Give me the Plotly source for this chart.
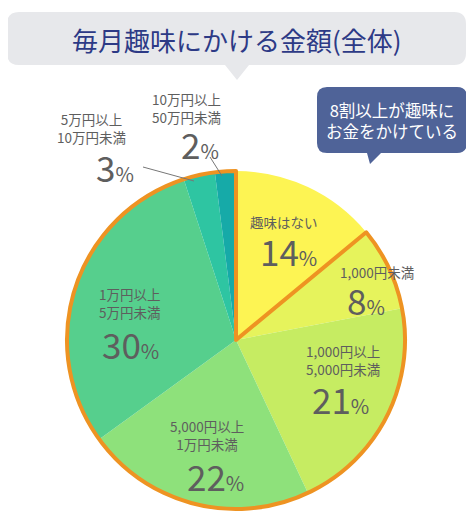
import plotly.graph_objects as go

# the page body keeps an 8px margin, so the figure is laid out in page pixels shifted by it
OFF = 8
W, H = 474 - OFF, 520 - OFF

# data
categories = ['趣味はない', '1,000円未満', '1,000円以上<br>5,000円未満', '5,000円以上<br>1万円未満',
              '1万円以上<br>5万円未満', '5万円以上<br>10万円未満', '10万円以上<br>50万円未満']
shares = [14, 8, 21, 22, 30, 3, 2]
colors = ['#FDF453', '#E6F35C', '#C6EC62', '#8EE17B', '#56CF8D', '#2EC5A2', '#16AAA8']
groups = ['趣味はない', '趣味にお金をかける']
groupShares = [shares[0], sum(shares[1:])]

title = '毎月趣味にかける金額(全体)'
callout = '8割以上が趣味に<br>お金をかけている'


def px(x):
    return (x - OFF) / W


def py(y):
    return 1 - (y - OFF) / H


def rrect(x0, y0, x1, y1, r, tip=None):
    # rounded box with an optional pointer (base x0, base x1, tip x, tip y) on the bottom edge
    p = f'M {px(x0 + r)} {py(y0)} L {px(x1 - r)} {py(y0)} Q {px(x1)} {py(y0)} {px(x1)} {py(y0 + r)} '
    p += f'L {px(x1)} {py(y1 - r)} Q {px(x1)} {py(y1)} {px(x1 - r)} {py(y1)} '
    if tip:
        bx0, bx1, tx, ty = tip
        p += f'L {px(bx1)} {py(y1)} L {px(tx)} {py(ty)} L {px(bx0)} {py(y1)} '
    p += f'L {px(x0 + r)} {py(y1)} Q {px(x0)} {py(y1)} {px(x0)} {py(y1 - r)} '
    p += f'L {px(x0)} {py(y0 + r)} Q {px(x0)} {py(y0)} {px(x0 + r)} {py(y0)} Z'
    return p


dom = dict(x=[px(67), px(405)], y=[py(509), py(171)])

fig = go.Figure()
fig.add_trace(go.Pie(labels=categories, values=shares, sort=False, direction='clockwise',
                     rotation=0, marker=dict(colors=colors, line=dict(width=0)),
                     textinfo='none', domain=dom, showlegend=False))
# orange outline around everyone who spends money on hobbies
fig.add_trace(go.Pie(labels=groups, values=groupShares, sort=False, direction='clockwise',
                     rotation=0, textinfo='none', hoverinfo='skip', domain=dom, showlegend=False,
                     marker=dict(colors=['rgba(0,0,0,0)', 'rgba(0,0,0,0)'],
                                 line=dict(color=['rgba(0,0,0,0)', '#EE9322'], width=[0, 4]))))

shapes = [
    dict(type='path', path=rrect(7, 12, 466, 65, 12, tip=(225, 249, 237, 80)),
         xref='paper', yref='paper', fillcolor='#E7E8EB', line=dict(width=0), layer='below'),
    dict(type='path', path=rrect(317, 87, 467, 153, 10, tip=(367, 381, 370, 164)),
         xref='paper', yref='paper', fillcolor='#4F6398', line=dict(width=0)),
    dict(type='line', x0=px(143), y0=py(167), x1=px(194), y1=py(181),
         xref='paper', yref='paper', line=dict(color='#777777', width=1)),
    dict(type='line', x0=px(210), y0=py(157), x1=px(222), y1=py(176),
         xref='paper', yref='paper', line=dict(color='#777777', width=1)),
]

font = 'Noto Sans CJK JP'
grey = '#5E5E5E'


def note(x, y, text, size, color=grey):
    return dict(x=px(x), y=py(y), text=text, showarrow=False, xref='paper', yref='paper',
                xanchor='center', yanchor='middle', font=dict(family=font, size=size, color=color))


# (label x, label y, pct x, pct y) for each slice
labelPos = [(284, 222, 288, 250), (377, 272, 366, 299), (343, 360, 340, 398),
            (207, 435, 215, 475), (130, 303, 130, 343), (91, 128, 115, 166),
            (186, 108, 200, 143)]

annotations = [note(237, 39, title, 26, '#2D3A86'),
               note(392, 120, callout, 16.5, 'white')]
for cat, val, (lx, ly, vx, vy) in zip(categories, shares, labelPos):
    annotations.append(note(lx, ly, cat, 13.5))
    annotations.append(note(vx, vy, f"{val}<span style='font-size:20px'>%</span>", 35))

fig.update_layout(width=W, height=H, margin=dict(l=0, r=0, t=0, b=0),
                  paper_bgcolor='white', plot_bgcolor='white',
                  shapes=shapes, annotations=annotations)
fig.write_html('out.html')
